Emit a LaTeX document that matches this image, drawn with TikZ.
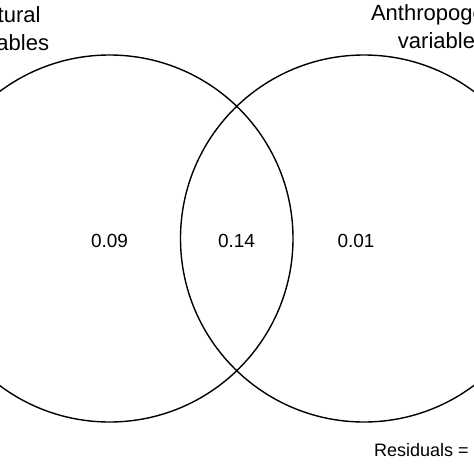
\documentclass[tikz,border=0pt]{standalone}
\usepackage{fontspec}
\setmainfont{Liberation Sans}
\begin{document}
\begin{tikzpicture}[x=1pt,y=-1pt,
  setcircle/.style={circle,draw=black,line width=1.4pt,minimum size=367pt,inner sep=0pt},
  lbl/.style={font=\fontsize{22}{28}\selectfont,text=black,inner sep=0pt,align=center},
  val/.style={font=\fontsize{19}{23}\selectfont,text=black,inner sep=0pt}]
\useasboundingbox (0,0) rectangle (474,474);
\clip (0,0) rectangle (474,474);
\fill[white] (0,0) rectangle (474,474);
\node[setcircle] (nat) at (109.5,238.5) {};
\node[setcircle] (ant) at (364,238.5) {};
\node[lbl,anchor=north] (natlbl) at (5,6) {Natural\\variables};
\node[lbl,anchor=north] (antlbl) at (442,4.5) {Anthropogenic\\variables};
\node[val,anchor=base] (v1) at (109.5,247) {0.09};
\node[val,anchor=base] (v2) at (236.5,247) {0.14};
\node[val,anchor=base] (v3) at (356,247) {0.01};
\node[val,font=\fontsize{18}{22}\selectfont,anchor=base west] (res) at (374,456) {Residuals =};
\end{tikzpicture}
\end{document}
